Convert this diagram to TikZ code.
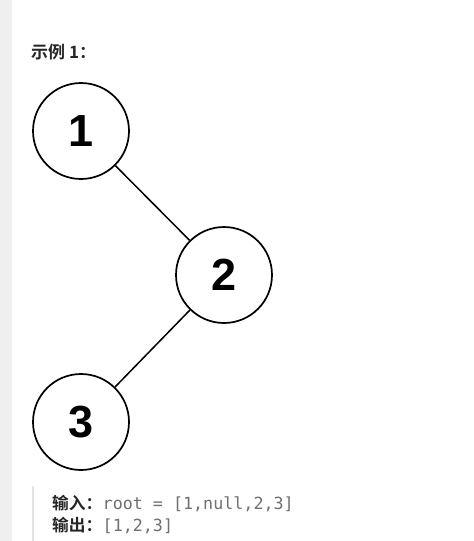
\documentclass[tikz,border=0pt]{standalone}
\usepackage{fontspec}
\setmainfont{Liberation Sans}
\newfontfamily\cjk{Noto Sans CJK SC}[BoldFont={* Bold}]
\newfontfamily\monof{DejaVu Sans Mono}
\definecolor{strip}{HTML}{EFEFEF}
\definecolor{barc}{HTML}{E4E4E4}
\definecolor{codegray}{HTML}{707070}
\definecolor{txt}{HTML}{262626}
\begin{document}
\begin{tikzpicture}[x=1pt,y=-1pt,
  treenode/.style={circle,draw=black,line width=1.7pt,minimum size=96pt,inner sep=0pt,
    font=\fontsize{45}{45}\selectfont\bfseries},
  edge/.style={draw=black,line width=1.5pt},
  lbl/.style={anchor=base west,inner sep=0pt,text=txt}]
\useasboundingbox (0,0) rectangle (474,541);
\fill[white] (0,0) rectangle (474,541);
\fill[strip] (0,0) rectangle (12,541);
\fill[barc] (31.5,486) rectangle (33.5,541);
\node[lbl,font=\cjk\fontsize{17}{17}\selectfont\bfseries] (title) at (31,58) {示例 1：};
\node[treenode] (n1) at (81,131) {1};
\node[treenode] (n2) at (224,275) {2};
\node[treenode] (n3) at (81,422) {3};
\draw[edge] (n1) -- (n2);
\draw[edge] (n2) -- (n3);
\node[lbl,font=\cjk\fontsize{16.7}{16.7}\selectfont\bfseries] (in) at (52,509) {输入：};
\node[lbl,font=\monof\fontsize{16.7}{16.7}\selectfont,text=codegray] (inv) at (in.base east) {root = [1,null,2,3]};
\node[lbl,font=\cjk\fontsize{16.7}{16.7}\selectfont\bfseries] (out) at (52,531) {输出：};
\node[lbl,font=\monof\fontsize{16.7}{16.7}\selectfont,text=codegray] (outv) at (out.base east) {[1,2,3]};
\end{tikzpicture}
\end{document}
